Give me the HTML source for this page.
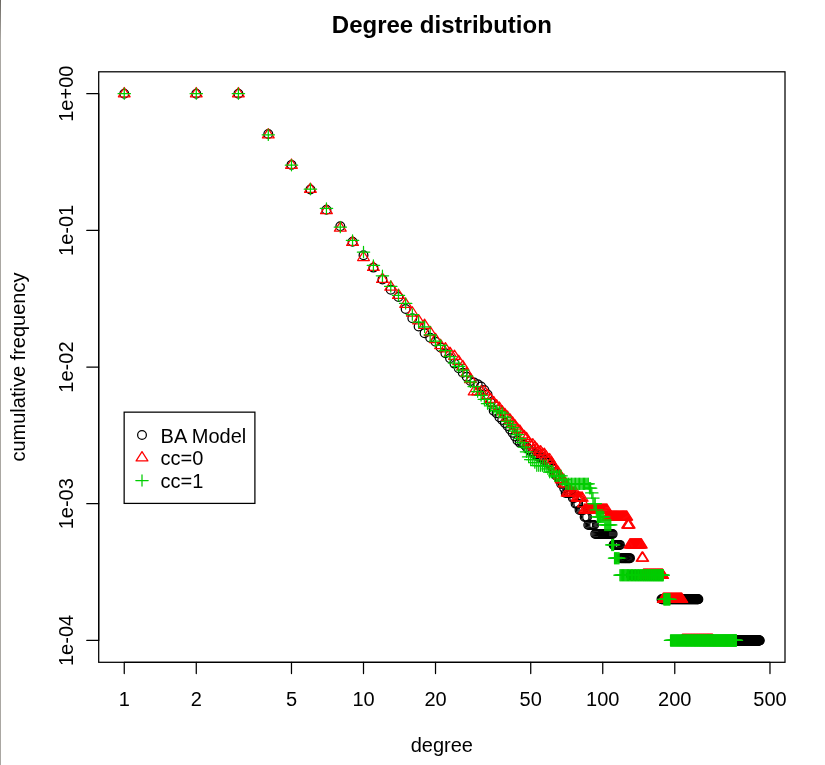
<!DOCTYPE html>
<html><head><meta charset="utf-8"><title>Degree distribution</title>
<style>
html,body{margin:0;padding:0;background:#fff;}
body{width:825px;height:765px;overflow:hidden;position:relative;}
.edge{position:absolute;left:0;top:0;width:1px;height:765px;background:linear-gradient(rgb(106,103,97) 0px,rgb(170,167,162) 40px,rgb(170,167,162) 765px);}
svg{position:absolute;left:0;top:0;}
text{font-family:"Liberation Sans",Arial,Helvetica,sans-serif;font-size:20px;fill:#000;}
</style></head><body>
<svg width="825" height="765" viewBox="0 0 825 765">
<g fill="none" stroke="#000" stroke-width="1.25"><circle cx="124.25" cy="93.70" r="4.37"/><circle cx="196.27" cy="93.70" r="4.37"/><circle cx="238.40" cy="93.70" r="4.37"/><circle cx="268.29" cy="134.08" r="4.37"/><circle cx="291.48" cy="164.87" r="4.37"/><circle cx="310.42" cy="189.41" r="4.37"/><circle cx="326.44" cy="209.82" r="4.37"/><circle cx="340.31" cy="226.31" r="4.37"/><circle cx="352.55" cy="241.66" r="4.37"/><circle cx="363.50" cy="255.32" r="4.37"/><circle cx="373.40" cy="267.62" r="4.37"/><circle cx="382.44" cy="279.52" r="4.37"/><circle cx="390.76" cy="289.72" r="4.37"/><circle cx="398.46" cy="296.91" r="4.37"/><circle cx="405.63" cy="308.99" r="4.37"/><circle cx="412.34" cy="318.14" r="4.37"/><circle cx="418.63" cy="326.51" r="4.37"/><circle cx="424.57" cy="333.17" r="4.37"/><circle cx="430.19" cy="337.70" r="4.37"/><circle cx="435.52" cy="341.82" r="4.37"/><circle cx="440.59" cy="347.51" r="4.37"/><circle cx="445.42" cy="353.34" r="4.37"/><circle cx="450.04" cy="358.25" r="4.37"/><circle cx="454.47" cy="363.60" r="4.37"/><circle cx="458.71" cy="368.26" r="4.37"/><circle cx="462.78" cy="372.66" r="4.37"/><circle cx="466.70" cy="376.71" r="4.37"/><circle cx="470.48" cy="381.05" r="4.37"/><circle cx="474.13" cy="382.57" r="4.37"/><circle cx="477.65" cy="384.14" r="4.37"/><circle cx="481.06" cy="386.56" r="4.37"/><circle cx="484.36" cy="389.95" r="4.37"/><circle cx="487.55" cy="394.49" r="4.37"/><circle cx="490.66" cy="402.55" r="4.37"/><circle cx="493.67" cy="410.63" r="4.37"/><circle cx="496.60" cy="413.15" r="4.37"/><circle cx="499.44" cy="417.16" r="4.37"/><circle cx="502.21" cy="419.98" r="4.37"/><circle cx="504.91" cy="422.95" r="4.37"/><circle cx="507.54" cy="426.08" r="4.37"/><circle cx="510.11" cy="429.38" r="4.37"/><circle cx="512.61" cy="432.87" r="4.37"/><circle cx="515.06" cy="436.58" r="4.37"/><circle cx="517.45" cy="440.54" r="4.37"/><circle cx="519.78" cy="442.62" r="4.37"/><circle cx="522.06" cy="442.62" r="4.37"/><circle cx="524.30" cy="444.78" r="4.37"/><circle cx="526.49" cy="447.02" r="4.37"/><circle cx="528.63" cy="449.35" r="4.37"/><circle cx="530.73" cy="451.77" r="4.37"/><circle cx="532.79" cy="451.77" r="4.37"/><circle cx="534.80" cy="454.30" r="4.37"/><circle cx="536.78" cy="454.30" r="4.37"/><circle cx="538.73" cy="456.94" r="4.37"/><circle cx="540.63" cy="456.94" r="4.37"/><circle cx="542.50" cy="456.94" r="4.37"/><circle cx="544.34" cy="459.70" r="4.37"/><circle cx="546.15" cy="462.60" r="4.37"/><circle cx="547.93" cy="462.60" r="4.37"/><circle cx="549.67" cy="462.60" r="4.37"/><circle cx="551.39" cy="465.64" r="4.37"/><circle cx="553.08" cy="468.85" r="4.37"/><circle cx="554.74" cy="472.24" r="4.37"/><circle cx="556.38" cy="475.84" r="4.37"/><circle cx="557.99" cy="475.84" r="4.37"/><circle cx="559.58" cy="479.67" r="4.37"/><circle cx="561.14" cy="483.77" r="4.37"/><circle cx="562.68" cy="483.77" r="4.37"/><circle cx="564.19" cy="488.17" r="4.37"/><circle cx="565.69" cy="492.92" r="4.37"/><circle cx="567.16" cy="492.92" r="4.37"/><circle cx="568.62" cy="492.92" r="4.37"/><circle cx="570.05" cy="492.92" r="4.37"/><circle cx="571.46" cy="492.92" r="4.37"/><circle cx="572.86" cy="498.08" r="4.37"/><circle cx="574.23" cy="498.08" r="4.37"/><circle cx="575.59" cy="503.74" r="4.37"/><circle cx="576.93" cy="503.74" r="4.37"/><circle cx="578.26" cy="503.74" r="4.37"/><circle cx="579.56" cy="509.99" r="4.37"/><circle cx="580.86" cy="509.99" r="4.37"/><circle cx="582.13" cy="509.99" r="4.37"/><circle cx="583.39" cy="509.99" r="4.37"/><circle cx="584.63" cy="516.99" r="4.37"/><circle cx="585.86" cy="516.99" r="4.37"/><circle cx="587.08" cy="516.99" r="4.37"/><circle cx="588.28" cy="524.91" r="4.37"/><circle cx="589.47" cy="524.91" r="4.37"/><circle cx="590.64" cy="524.91" r="4.37"/><circle cx="591.80" cy="524.91" r="4.37"/><circle cx="592.95" cy="524.91" r="4.37"/><circle cx="594.09" cy="524.91" r="4.37"/><circle cx="595.21" cy="534.06" r="4.37"/><circle cx="596.32" cy="534.06" r="4.37"/><circle cx="597.42" cy="534.06" r="4.37"/><circle cx="598.51" cy="534.06" r="4.37"/><circle cx="599.59" cy="534.06" r="4.37"/><circle cx="600.65" cy="534.06" r="4.37"/><circle cx="601.71" cy="534.06" r="4.37"/><circle cx="602.75" cy="534.06" r="4.37"/><circle cx="603.78" cy="534.06" r="4.37"/><circle cx="604.81" cy="534.06" r="4.37"/><circle cx="605.82" cy="534.06" r="4.37"/><circle cx="606.83" cy="534.06" r="4.37"/><circle cx="607.82" cy="534.06" r="4.37"/><circle cx="608.80" cy="534.06" r="4.37"/><circle cx="609.78" cy="534.06" r="4.37"/><circle cx="610.75" cy="534.06" r="4.37"/><circle cx="611.70" cy="534.06" r="4.37"/><circle cx="612.65" cy="534.06" r="4.37"/><circle cx="613.59" cy="544.88" r="4.37"/><circle cx="614.53" cy="544.88" r="4.37"/><circle cx="615.45" cy="544.88" r="4.37"/><circle cx="616.36" cy="544.88" r="4.37"/><circle cx="617.27" cy="544.88" r="4.37"/><circle cx="618.17" cy="544.88" r="4.37"/><circle cx="619.06" cy="544.88" r="4.37"/><circle cx="619.95" cy="544.88" r="4.37"/><circle cx="620.82" cy="558.13" r="4.37"/><circle cx="621.69" cy="558.13" r="4.37"/><circle cx="622.56" cy="558.13" r="4.37"/><circle cx="623.41" cy="558.13" r="4.37"/><circle cx="624.26" cy="558.13" r="4.37"/><circle cx="625.10" cy="558.13" r="4.37"/><circle cx="625.94" cy="558.13" r="4.37"/><circle cx="626.76" cy="558.13" r="4.37"/><circle cx="627.59" cy="558.13" r="4.37"/><circle cx="628.40" cy="558.13" r="4.37"/><circle cx="629.21" cy="558.13" r="4.37"/><circle cx="630.01" cy="558.13" r="4.37"/><circle cx="630.81" cy="575.21" r="4.37"/><circle cx="631.60" cy="575.21" r="4.37"/><circle cx="632.38" cy="575.21" r="4.37"/><circle cx="633.16" cy="575.21" r="4.37"/><circle cx="633.93" cy="575.21" r="4.37"/><circle cx="634.70" cy="575.21" r="4.37"/><circle cx="635.46" cy="575.21" r="4.37"/><circle cx="636.22" cy="575.21" r="4.37"/><circle cx="636.97" cy="575.21" r="4.37"/><circle cx="637.71" cy="575.21" r="4.37"/><circle cx="638.45" cy="575.21" r="4.37"/><circle cx="639.18" cy="575.21" r="4.37"/><circle cx="639.91" cy="575.21" r="4.37"/><circle cx="640.64" cy="575.21" r="4.37"/><circle cx="641.36" cy="575.21" r="4.37"/><circle cx="642.07" cy="575.21" r="4.37"/><circle cx="642.78" cy="575.21" r="4.37"/><circle cx="643.49" cy="575.21" r="4.37"/><circle cx="644.18" cy="575.21" r="4.37"/><circle cx="644.88" cy="575.21" r="4.37"/><circle cx="645.57" cy="575.21" r="4.37"/><circle cx="646.26" cy="575.21" r="4.37"/><circle cx="646.94" cy="575.21" r="4.37"/><circle cx="647.61" cy="575.21" r="4.37"/><circle cx="648.29" cy="575.21" r="4.37"/><circle cx="648.96" cy="575.21" r="4.37"/><circle cx="649.62" cy="575.21" r="4.37"/><circle cx="650.28" cy="575.21" r="4.37"/><circle cx="650.93" cy="575.21" r="4.37"/><circle cx="651.59" cy="575.21" r="4.37"/><circle cx="652.23" cy="575.21" r="4.37"/><circle cx="652.88" cy="575.21" r="4.37"/><circle cx="653.52" cy="575.21" r="4.37"/><circle cx="654.15" cy="575.21" r="4.37"/><circle cx="654.78" cy="575.21" r="4.37"/><circle cx="655.41" cy="575.21" r="4.37"/><circle cx="656.03" cy="575.21" r="4.37"/><circle cx="656.66" cy="575.21" r="4.37"/><circle cx="657.27" cy="575.21" r="4.37"/><circle cx="657.88" cy="575.21" r="4.37"/><circle cx="658.49" cy="575.21" r="4.37"/><circle cx="659.10" cy="575.21" r="4.37"/><circle cx="659.70" cy="575.21" r="4.37"/><circle cx="660.30" cy="575.21" r="4.37"/><circle cx="660.90" cy="575.21" r="4.37"/><circle cx="661.49" cy="599.28" r="4.37"/><circle cx="662.08" cy="599.28" r="4.37"/><circle cx="662.66" cy="599.28" r="4.37"/><circle cx="663.25" cy="599.28" r="4.37"/><circle cx="663.82" cy="599.28" r="4.37"/><circle cx="664.40" cy="599.28" r="4.37"/><circle cx="664.97" cy="599.28" r="4.37"/><circle cx="665.54" cy="599.28" r="4.37"/><circle cx="666.11" cy="599.28" r="4.37"/><circle cx="666.67" cy="599.28" r="4.37"/><circle cx="667.23" cy="599.28" r="4.37"/><circle cx="667.79" cy="599.28" r="4.37"/><circle cx="668.34" cy="599.28" r="4.37"/><circle cx="668.89" cy="599.28" r="4.37"/><circle cx="669.44" cy="599.28" r="4.37"/><circle cx="669.99" cy="599.28" r="4.37"/><circle cx="670.53" cy="599.28" r="4.37"/><circle cx="671.07" cy="599.28" r="4.37"/><circle cx="671.61" cy="599.28" r="4.37"/><circle cx="672.14" cy="599.28" r="4.37"/><circle cx="672.67" cy="599.28" r="4.37"/><circle cx="673.20" cy="599.28" r="4.37"/><circle cx="673.73" cy="599.28" r="4.37"/><circle cx="674.25" cy="599.28" r="4.37"/><circle cx="674.77" cy="599.28" r="4.37"/><circle cx="675.29" cy="599.28" r="4.37"/><circle cx="675.81" cy="599.28" r="4.37"/><circle cx="676.32" cy="599.28" r="4.37"/><circle cx="676.83" cy="599.28" r="4.37"/><circle cx="677.34" cy="599.28" r="4.37"/><circle cx="677.84" cy="599.28" r="4.37"/><circle cx="678.35" cy="599.28" r="4.37"/><circle cx="678.85" cy="599.28" r="4.37"/><circle cx="679.34" cy="599.28" r="4.37"/><circle cx="679.84" cy="599.28" r="4.37"/><circle cx="680.33" cy="599.28" r="4.37"/><circle cx="680.83" cy="599.28" r="4.37"/><circle cx="681.31" cy="599.28" r="4.37"/><circle cx="681.80" cy="599.28" r="4.37"/><circle cx="682.29" cy="599.28" r="4.37"/><circle cx="682.77" cy="599.28" r="4.37"/><circle cx="683.25" cy="599.28" r="4.37"/><circle cx="683.73" cy="599.28" r="4.37"/><circle cx="684.20" cy="599.28" r="4.37"/><circle cx="684.67" cy="599.28" r="4.37"/><circle cx="685.15" cy="599.28" r="4.37"/><circle cx="685.61" cy="599.28" r="4.37"/><circle cx="686.08" cy="599.28" r="4.37"/><circle cx="686.55" cy="599.28" r="4.37"/><circle cx="687.01" cy="599.28" r="4.37"/><circle cx="687.47" cy="599.28" r="4.37"/><circle cx="687.93" cy="599.28" r="4.37"/><circle cx="688.39" cy="599.28" r="4.37"/><circle cx="688.84" cy="599.28" r="4.37"/><circle cx="689.29" cy="599.28" r="4.37"/><circle cx="689.74" cy="599.28" r="4.37"/><circle cx="690.19" cy="599.28" r="4.37"/><circle cx="690.64" cy="599.28" r="4.37"/><circle cx="691.08" cy="599.28" r="4.37"/><circle cx="691.53" cy="599.28" r="4.37"/><circle cx="691.97" cy="599.28" r="4.37"/><circle cx="692.41" cy="599.28" r="4.37"/><circle cx="692.85" cy="599.28" r="4.37"/><circle cx="693.28" cy="599.28" r="4.37"/><circle cx="693.72" cy="599.28" r="4.37"/><circle cx="694.15" cy="599.28" r="4.37"/><circle cx="694.58" cy="599.28" r="4.37"/><circle cx="695.01" cy="599.28" r="4.37"/><circle cx="695.43" cy="599.28" r="4.37"/><circle cx="695.86" cy="599.28" r="4.37"/><circle cx="696.28" cy="599.28" r="4.37"/><circle cx="696.70" cy="599.28" r="4.37"/><circle cx="697.12" cy="599.28" r="4.37"/><circle cx="697.54" cy="599.28" r="4.37"/><circle cx="697.96" cy="599.28" r="4.37"/><circle cx="698.37" cy="599.28" r="4.37"/><circle cx="698.79" cy="640.42" r="4.37"/><circle cx="699.20" cy="640.42" r="4.37"/><circle cx="699.61" cy="640.42" r="4.37"/><circle cx="700.01" cy="640.42" r="4.37"/><circle cx="700.42" cy="640.42" r="4.37"/><circle cx="700.83" cy="640.42" r="4.37"/><circle cx="701.23" cy="640.42" r="4.37"/><circle cx="701.63" cy="640.42" r="4.37"/><circle cx="702.03" cy="640.42" r="4.37"/><circle cx="702.43" cy="640.42" r="4.37"/><circle cx="702.83" cy="640.42" r="4.37"/><circle cx="703.22" cy="640.42" r="4.37"/><circle cx="703.62" cy="640.42" r="4.37"/><circle cx="704.01" cy="640.42" r="4.37"/><circle cx="704.40" cy="640.42" r="4.37"/><circle cx="704.79" cy="640.42" r="4.37"/><circle cx="705.18" cy="640.42" r="4.37"/><circle cx="705.57" cy="640.42" r="4.37"/><circle cx="705.95" cy="640.42" r="4.37"/><circle cx="706.34" cy="640.42" r="4.37"/><circle cx="706.72" cy="640.42" r="4.37"/><circle cx="707.10" cy="640.42" r="4.37"/><circle cx="707.48" cy="640.42" r="4.37"/><circle cx="707.86" cy="640.42" r="4.37"/><circle cx="708.24" cy="640.42" r="4.37"/><circle cx="708.61" cy="640.42" r="4.37"/><circle cx="708.99" cy="640.42" r="4.37"/><circle cx="709.36" cy="640.42" r="4.37"/><circle cx="709.73" cy="640.42" r="4.37"/><circle cx="710.10" cy="640.42" r="4.37"/><circle cx="710.47" cy="640.42" r="4.37"/><circle cx="710.84" cy="640.42" r="4.37"/><circle cx="711.21" cy="640.42" r="4.37"/><circle cx="711.57" cy="640.42" r="4.37"/><circle cx="711.94" cy="640.42" r="4.37"/><circle cx="712.30" cy="640.42" r="4.37"/><circle cx="712.66" cy="640.42" r="4.37"/><circle cx="713.02" cy="640.42" r="4.37"/><circle cx="713.38" cy="640.42" r="4.37"/><circle cx="713.74" cy="640.42" r="4.37"/><circle cx="714.09" cy="640.42" r="4.37"/><circle cx="714.45" cy="640.42" r="4.37"/><circle cx="714.80" cy="640.42" r="4.37"/><circle cx="715.15" cy="640.42" r="4.37"/><circle cx="715.51" cy="640.42" r="4.37"/><circle cx="715.86" cy="640.42" r="4.37"/><circle cx="716.21" cy="640.42" r="4.37"/><circle cx="716.55" cy="640.42" r="4.37"/><circle cx="716.90" cy="640.42" r="4.37"/><circle cx="717.25" cy="640.42" r="4.37"/><circle cx="717.59" cy="640.42" r="4.37"/><circle cx="717.94" cy="640.42" r="4.37"/><circle cx="718.28" cy="640.42" r="4.37"/><circle cx="718.62" cy="640.42" r="4.37"/><circle cx="718.96" cy="640.42" r="4.37"/><circle cx="719.30" cy="640.42" r="4.37"/><circle cx="719.64" cy="640.42" r="4.37"/><circle cx="719.97" cy="640.42" r="4.37"/><circle cx="720.31" cy="640.42" r="4.37"/><circle cx="720.64" cy="640.42" r="4.37"/><circle cx="720.98" cy="640.42" r="4.37"/><circle cx="721.31" cy="640.42" r="4.37"/><circle cx="721.64" cy="640.42" r="4.37"/><circle cx="721.97" cy="640.42" r="4.37"/><circle cx="722.30" cy="640.42" r="4.37"/><circle cx="722.63" cy="640.42" r="4.37"/><circle cx="722.96" cy="640.42" r="4.37"/><circle cx="723.28" cy="640.42" r="4.37"/><circle cx="723.61" cy="640.42" r="4.37"/><circle cx="723.93" cy="640.42" r="4.37"/><circle cx="724.25" cy="640.42" r="4.37"/><circle cx="724.58" cy="640.42" r="4.37"/><circle cx="724.90" cy="640.42" r="4.37"/><circle cx="725.22" cy="640.42" r="4.37"/><circle cx="725.54" cy="640.42" r="4.37"/><circle cx="725.86" cy="640.42" r="4.37"/><circle cx="726.17" cy="640.42" r="4.37"/><circle cx="726.49" cy="640.42" r="4.37"/><circle cx="726.80" cy="640.42" r="4.37"/><circle cx="727.12" cy="640.42" r="4.37"/><circle cx="727.43" cy="640.42" r="4.37"/><circle cx="727.74" cy="640.42" r="4.37"/><circle cx="728.06" cy="640.42" r="4.37"/><circle cx="728.37" cy="640.42" r="4.37"/><circle cx="728.68" cy="640.42" r="4.37"/><circle cx="728.99" cy="640.42" r="4.37"/><circle cx="729.29" cy="640.42" r="4.37"/><circle cx="729.60" cy="640.42" r="4.37"/><circle cx="729.91" cy="640.42" r="4.37"/><circle cx="730.21" cy="640.42" r="4.37"/><circle cx="730.52" cy="640.42" r="4.37"/><circle cx="730.82" cy="640.42" r="4.37"/><circle cx="731.12" cy="640.42" r="4.37"/><circle cx="731.42" cy="640.42" r="4.37"/><circle cx="731.72" cy="640.42" r="4.37"/><circle cx="732.02" cy="640.42" r="4.37"/><circle cx="732.32" cy="640.42" r="4.37"/><circle cx="732.62" cy="640.42" r="4.37"/><circle cx="732.92" cy="640.42" r="4.37"/><circle cx="733.21" cy="640.42" r="4.37"/><circle cx="733.51" cy="640.42" r="4.37"/><circle cx="733.81" cy="640.42" r="4.37"/><circle cx="734.10" cy="640.42" r="4.37"/><circle cx="734.39" cy="640.42" r="4.37"/><circle cx="734.68" cy="640.42" r="4.37"/><circle cx="734.98" cy="640.42" r="4.37"/><circle cx="735.27" cy="640.42" r="4.37"/><circle cx="735.56" cy="640.42" r="4.37"/><circle cx="735.85" cy="640.42" r="4.37"/><circle cx="736.13" cy="640.42" r="4.37"/><circle cx="736.42" cy="640.42" r="4.37"/><circle cx="736.71" cy="640.42" r="4.37"/><circle cx="736.99" cy="640.42" r="4.37"/><circle cx="737.28" cy="640.42" r="4.37"/><circle cx="737.56" cy="640.42" r="4.37"/><circle cx="737.85" cy="640.42" r="4.37"/><circle cx="738.13" cy="640.42" r="4.37"/><circle cx="738.41" cy="640.42" r="4.37"/><circle cx="738.69" cy="640.42" r="4.37"/><circle cx="738.97" cy="640.42" r="4.37"/><circle cx="739.25" cy="640.42" r="4.37"/><circle cx="739.53" cy="640.42" r="4.37"/><circle cx="739.81" cy="640.42" r="4.37"/><circle cx="740.09" cy="640.42" r="4.37"/><circle cx="740.36" cy="640.42" r="4.37"/><circle cx="740.64" cy="640.42" r="4.37"/><circle cx="740.91" cy="640.42" r="4.37"/><circle cx="741.19" cy="640.42" r="4.37"/><circle cx="741.46" cy="640.42" r="4.37"/><circle cx="741.74" cy="640.42" r="4.37"/><circle cx="742.01" cy="640.42" r="4.37"/><circle cx="742.28" cy="640.42" r="4.37"/><circle cx="742.55" cy="640.42" r="4.37"/><circle cx="742.82" cy="640.42" r="4.37"/><circle cx="743.09" cy="640.42" r="4.37"/><circle cx="743.36" cy="640.42" r="4.37"/><circle cx="743.63" cy="640.42" r="4.37"/><circle cx="743.90" cy="640.42" r="4.37"/><circle cx="744.16" cy="640.42" r="4.37"/><circle cx="744.43" cy="640.42" r="4.37"/><circle cx="744.69" cy="640.42" r="4.37"/><circle cx="744.96" cy="640.42" r="4.37"/><circle cx="745.22" cy="640.42" r="4.37"/><circle cx="745.49" cy="640.42" r="4.37"/><circle cx="745.75" cy="640.42" r="4.37"/><circle cx="746.01" cy="640.42" r="4.37"/><circle cx="746.27" cy="640.42" r="4.37"/><circle cx="746.53" cy="640.42" r="4.37"/><circle cx="746.79" cy="640.42" r="4.37"/><circle cx="747.05" cy="640.42" r="4.37"/><circle cx="747.31" cy="640.42" r="4.37"/><circle cx="747.57" cy="640.42" r="4.37"/><circle cx="747.83" cy="640.42" r="4.37"/><circle cx="748.08" cy="640.42" r="4.37"/><circle cx="748.34" cy="640.42" r="4.37"/><circle cx="748.60" cy="640.42" r="4.37"/><circle cx="748.85" cy="640.42" r="4.37"/><circle cx="749.10" cy="640.42" r="4.37"/><circle cx="749.36" cy="640.42" r="4.37"/><circle cx="749.61" cy="640.42" r="4.37"/><circle cx="749.86" cy="640.42" r="4.37"/><circle cx="750.12" cy="640.42" r="4.37"/><circle cx="750.37" cy="640.42" r="4.37"/><circle cx="750.62" cy="640.42" r="4.37"/><circle cx="750.87" cy="640.42" r="4.37"/><circle cx="751.12" cy="640.42" r="4.37"/><circle cx="751.37" cy="640.42" r="4.37"/><circle cx="751.61" cy="640.42" r="4.37"/><circle cx="751.86" cy="640.42" r="4.37"/><circle cx="752.11" cy="640.42" r="4.37"/><circle cx="752.36" cy="640.42" r="4.37"/><circle cx="752.60" cy="640.42" r="4.37"/><circle cx="752.85" cy="640.42" r="4.37"/><circle cx="753.09" cy="640.42" r="4.37"/><circle cx="753.34" cy="640.42" r="4.37"/><circle cx="753.58" cy="640.42" r="4.37"/><circle cx="753.82" cy="640.42" r="4.37"/><circle cx="754.07" cy="640.42" r="4.37"/><circle cx="754.31" cy="640.42" r="4.37"/><circle cx="754.55" cy="640.42" r="4.37"/><circle cx="754.79" cy="640.42" r="4.37"/><circle cx="755.03" cy="640.42" r="4.37"/><circle cx="755.27" cy="640.42" r="4.37"/><circle cx="755.51" cy="640.42" r="4.37"/><circle cx="755.75" cy="640.42" r="4.37"/><circle cx="755.99" cy="640.42" r="4.37"/><circle cx="756.22" cy="640.42" r="4.37"/><circle cx="756.46" cy="640.42" r="4.37"/><circle cx="756.70" cy="640.42" r="4.37"/><circle cx="756.93" cy="640.42" r="4.37"/><circle cx="757.17" cy="640.42" r="4.37"/><circle cx="757.40" cy="640.42" r="4.37"/><circle cx="757.64" cy="640.42" r="4.37"/><circle cx="757.87" cy="640.42" r="4.37"/><circle cx="758.10" cy="640.42" r="4.37"/><circle cx="758.34" cy="640.42" r="4.37"/><circle cx="758.57" cy="640.42" r="4.37"/><circle cx="758.80" cy="640.42" r="4.37"/><circle cx="759.03" cy="640.42" r="4.37"/><circle cx="759.26" cy="640.42" r="4.37"/><circle cx="759.49" cy="640.42" r="4.37"/><circle cx="759.72" cy="640.42" r="4.37"/></g>
<g fill="none" stroke="#f00" stroke-width="1.25" stroke-linejoin="round"><path d="M124.25 87.52L130.14 96.79L118.36 96.79Z"/><path d="M196.27 87.52L202.16 96.79L190.39 96.79Z"/><path d="M238.40 87.52L244.29 96.79L232.52 96.79Z"/><path d="M268.29 128.66L274.18 137.94L262.41 137.94Z"/><path d="M291.48 158.98L297.36 168.26L285.59 168.26Z"/><path d="M310.42 183.05L316.31 192.33L304.54 192.33Z"/><path d="M326.44 204.44L332.33 213.71L320.55 213.71Z"/><path d="M340.31 221.87L346.20 231.14L334.43 231.14Z"/><path d="M352.55 236.12L358.44 245.40L346.67 245.40Z"/><path d="M363.50 251.25L369.39 260.52L357.61 260.52Z"/><path d="M373.40 261.21L379.29 270.49L367.52 270.49Z"/><path d="M382.44 273.20L388.33 282.48L376.56 282.48Z"/><path d="M390.76 280.86L396.65 290.13L384.88 290.13Z"/><path d="M398.46 289.11L404.35 298.39L392.58 298.39Z"/><path d="M405.63 298.09L411.52 307.36L399.74 307.36Z"/><path d="M412.34 306.72L418.22 316.00L406.45 316.00Z"/><path d="M418.63 314.62L424.52 323.89L412.75 323.89Z"/><path d="M424.57 319.14L430.46 328.42L418.69 328.42Z"/><path d="M430.19 326.32L436.08 335.59L424.31 335.59Z"/><path d="M435.52 333.35L441.41 342.63L429.64 342.63Z"/><path d="M440.59 339.23L446.48 348.51L434.71 348.51Z"/><path d="M445.42 342.62L451.31 351.90L439.54 351.90Z"/><path d="M450.04 347.16L455.93 356.43L444.16 356.43Z"/><path d="M454.47 350.05L460.35 359.33L448.58 359.33Z"/><path d="M458.71 355.22L464.59 364.49L452.82 364.49Z"/><path d="M462.78 360.29L468.67 369.56L456.90 369.56Z"/><path d="M466.70 367.13L472.59 376.41L460.82 376.41Z"/><path d="M470.48 373.38L476.37 382.66L464.60 382.66Z"/><path d="M474.13 385.54L480.01 394.82L468.24 394.82Z"/><path d="M477.65 385.54L483.54 394.82L471.77 394.82Z"/><path d="M481.06 385.54L486.94 394.82L475.17 394.82Z"/><path d="M484.36 385.54L490.24 394.82L478.47 394.82Z"/><path d="M487.55 389.25L493.44 398.53L481.67 398.53Z"/><path d="M490.66 393.21L496.54 402.49L484.77 402.49Z"/><path d="M493.67 396.36L499.55 405.64L487.78 405.64Z"/><path d="M496.60 399.69L502.48 408.97L490.71 408.97Z"/><path d="M499.44 402.02L505.33 411.30L493.56 411.30Z"/><path d="M502.21 405.69L508.10 414.97L496.33 414.97Z"/><path d="M504.91 408.27L510.80 417.55L499.03 417.55Z"/><path d="M507.54 410.97L513.43 420.25L501.66 420.25Z"/><path d="M510.11 413.80L515.99 423.08L504.22 423.08Z"/><path d="M512.61 416.77L518.50 426.05L506.73 426.05Z"/><path d="M515.06 419.89L520.94 429.17L509.17 429.17Z"/><path d="M517.45 423.19L523.33 432.47L511.56 432.47Z"/><path d="M519.78 424.91L525.67 434.19L513.90 434.19Z"/><path d="M522.06 428.51L527.95 437.79L516.18 437.79Z"/><path d="M524.30 430.40L530.18 439.67L518.41 439.67Z"/><path d="M526.49 432.34L532.37 441.62L520.60 441.62Z"/><path d="M528.63 436.44L534.51 445.71L522.74 445.71Z"/><path d="M530.73 438.60L536.61 447.87L524.84 447.87Z"/><path d="M532.79 438.60L538.67 447.87L526.90 447.87Z"/><path d="M534.80 440.84L540.69 450.11L528.92 450.11Z"/><path d="M536.78 443.17L542.67 452.44L530.90 452.44Z"/><path d="M538.73 445.59L544.61 454.87L532.84 454.87Z"/><path d="M540.63 445.59L546.52 454.87L534.75 454.87Z"/><path d="M542.50 448.11L548.39 457.39L536.62 457.39Z"/><path d="M544.34 448.11L550.23 457.39L538.46 457.39Z"/><path d="M546.15 450.75L552.04 460.03L540.26 460.03Z"/><path d="M547.93 453.51L553.81 462.79L542.04 462.79Z"/><path d="M549.67 453.51L555.56 462.79L543.79 462.79Z"/><path d="M551.39 456.41L557.28 465.69L545.50 465.69Z"/><path d="M553.08 459.46L558.97 468.73L547.19 468.73Z"/><path d="M554.74 462.67L560.63 471.94L548.86 471.94Z"/><path d="M556.38 466.06L562.26 475.33L550.49 475.33Z"/><path d="M557.99 466.06L563.88 475.33L552.10 475.33Z"/><path d="M559.58 469.66L565.46 478.93L553.69 478.93Z"/><path d="M561.14 473.49L567.02 482.76L555.25 482.76Z"/><path d="M562.68 473.49L568.56 482.76L556.79 482.76Z"/><path d="M564.19 477.58L570.08 486.86L558.31 486.86Z"/><path d="M565.69 477.58L571.58 486.86L559.80 486.86Z"/><path d="M567.16 486.73L573.05 496.01L561.28 496.01Z"/><path d="M568.62 486.73L574.50 496.01L562.73 496.01Z"/><path d="M570.05 486.73L575.94 496.01L564.16 496.01Z"/><path d="M571.46 486.73L577.35 496.01L565.58 496.01Z"/><path d="M572.86 486.73L578.74 496.01L566.97 496.01Z"/><path d="M574.23 486.73L580.12 496.01L568.35 496.01Z"/><path d="M575.59 486.73L581.48 496.01L569.71 496.01Z"/><path d="M576.93 491.90L582.82 501.17L571.05 501.17Z"/><path d="M578.26 491.90L584.14 501.17L572.37 501.17Z"/><path d="M579.56 491.90L585.45 501.17L573.68 501.17Z"/><path d="M580.86 491.90L586.74 501.17L574.97 501.17Z"/><path d="M582.13 491.90L588.02 501.17L576.24 501.17Z"/><path d="M583.39 497.56L589.27 506.83L577.50 506.83Z"/><path d="M584.63 503.81L590.52 513.09L578.75 513.09Z"/><path d="M585.86 503.81L591.75 513.09L579.98 513.09Z"/><path d="M587.08 503.81L592.96 513.09L581.19 513.09Z"/><path d="M588.28 503.81L594.17 513.09L582.39 513.09Z"/><path d="M589.47 503.81L595.35 513.09L583.58 513.09Z"/><path d="M590.64 503.81L596.53 513.09L584.76 513.09Z"/><path d="M591.80 503.81L597.69 513.09L585.92 513.09Z"/><path d="M592.95 503.81L598.84 513.09L587.07 513.09Z"/><path d="M594.09 503.81L599.97 513.09L588.20 513.09Z"/><path d="M595.21 503.81L601.10 513.09L589.32 513.09Z"/><path d="M596.32 503.81L602.21 513.09L590.44 513.09Z"/><path d="M597.42 503.81L603.31 513.09L591.53 513.09Z"/><path d="M598.51 503.81L604.39 513.09L592.62 513.09Z"/><path d="M599.59 503.81L605.47 513.09L593.70 513.09Z"/><path d="M600.65 503.81L606.54 513.09L594.77 513.09Z"/><path d="M601.71 503.81L607.59 513.09L595.82 513.09Z"/><path d="M602.75 503.81L608.64 513.09L596.86 513.09Z"/><path d="M603.78 503.81L609.67 513.09L597.90 513.09Z"/><path d="M604.81 503.81L610.69 513.09L598.92 513.09Z"/><path d="M605.82 503.81L611.71 513.09L599.94 513.09Z"/><path d="M606.83 503.81L612.71 513.09L600.94 513.09Z"/><path d="M607.82 510.80L613.71 520.08L601.93 520.08Z"/><path d="M608.80 510.80L614.69 520.08L602.92 520.08Z"/><path d="M609.78 510.80L615.67 520.08L603.89 520.08Z"/><path d="M610.75 510.80L616.63 520.08L604.86 520.08Z"/><path d="M611.70 510.80L617.59 520.08L605.82 520.08Z"/><path d="M612.65 510.80L618.54 520.08L606.77 520.08Z"/><path d="M613.59 510.80L619.48 520.08L607.71 520.08Z"/><path d="M614.53 510.80L620.41 520.08L608.64 520.08Z"/><path d="M615.45 510.80L621.33 520.08L609.56 520.08Z"/><path d="M616.36 510.80L622.25 520.08L610.48 520.08Z"/><path d="M617.27 510.80L623.16 520.08L611.39 520.08Z"/><path d="M618.17 510.80L624.06 520.08L612.29 520.08Z"/><path d="M619.06 510.80L624.95 520.08L613.18 520.08Z"/><path d="M619.95 510.80L625.83 520.08L614.06 520.08Z"/><path d="M620.82 510.80L626.71 520.08L614.94 520.08Z"/><path d="M621.69 510.80L627.58 520.08L615.81 520.08Z"/><path d="M622.56 510.80L628.44 520.08L616.67 520.08Z"/><path d="M623.41 510.80L629.30 520.08L617.53 520.08Z"/><path d="M624.26 510.80L630.15 520.08L618.37 520.08Z"/><path d="M625.10 510.80L630.99 520.08L619.22 520.08Z"/><path d="M625.94 510.80L631.82 520.08L620.05 520.08Z"/><path d="M626.76 510.80L632.65 520.08L620.88 520.08Z"/><path d="M627.59 518.73L633.47 528.00L621.70 528.00Z"/><path d="M628.40 518.73L634.29 528.00L622.51 528.00Z"/><path d="M629.21 518.73L635.09 528.00L623.32 528.00Z"/><path d="M630.01 538.70L635.90 547.98L624.13 547.98Z"/><path d="M630.81 538.70L636.69 547.98L624.92 547.98Z"/><path d="M631.60 538.70L637.48 547.98L625.71 547.98Z"/><path d="M632.38 538.70L638.27 547.98L626.50 547.98Z"/><path d="M633.16 538.70L639.05 547.98L627.27 547.98Z"/><path d="M633.93 538.70L639.82 547.98L628.05 547.98Z"/><path d="M634.70 538.70L640.58 547.98L628.81 547.98Z"/><path d="M635.46 538.70L641.35 547.98L629.57 547.98Z"/><path d="M636.22 538.70L642.10 547.98L630.33 547.98Z"/><path d="M636.97 538.70L642.85 547.98L631.08 547.98Z"/><path d="M637.71 538.70L643.60 547.98L631.83 547.98Z"/><path d="M638.45 538.70L644.34 547.98L632.57 547.98Z"/><path d="M639.18 538.70L645.07 547.98L633.30 547.98Z"/><path d="M639.91 538.70L645.80 547.98L634.03 547.98Z"/><path d="M640.64 538.70L646.52 547.98L634.75 547.98Z"/><path d="M641.36 538.70L647.24 547.98L635.47 547.98Z"/><path d="M642.07 551.95L647.96 561.22L636.19 561.22Z"/><path d="M642.78 551.95L648.67 561.22L636.90 561.22Z"/><path d="M643.49 569.02L649.37 578.30L637.60 578.30Z"/><path d="M644.18 569.02L650.07 578.30L638.30 578.30Z"/><path d="M644.88 569.02L650.77 578.30L638.99 578.30Z"/><path d="M645.57 569.02L651.46 578.30L639.68 578.30Z"/><path d="M646.26 569.02L652.14 578.30L640.37 578.30Z"/><path d="M646.94 569.02L652.82 578.30L641.05 578.30Z"/><path d="M647.61 569.02L653.50 578.30L641.73 578.30Z"/><path d="M648.29 569.02L654.17 578.30L642.40 578.30Z"/><path d="M648.96 569.02L654.84 578.30L643.07 578.30Z"/><path d="M649.62 569.02L655.50 578.30L643.73 578.30Z"/><path d="M650.28 569.02L656.16 578.30L644.39 578.30Z"/><path d="M650.93 569.02L656.82 578.30L645.05 578.30Z"/><path d="M651.59 569.02L657.47 578.30L645.70 578.30Z"/><path d="M652.23 569.02L658.12 578.30L646.35 578.30Z"/><path d="M652.88 569.02L658.76 578.30L646.99 578.30Z"/><path d="M653.52 569.02L659.40 578.30L647.63 578.30Z"/><path d="M654.15 569.02L660.04 578.30L648.27 578.30Z"/><path d="M654.78 569.02L660.67 578.30L648.90 578.30Z"/><path d="M655.41 569.02L661.30 578.30L649.53 578.30Z"/><path d="M656.03 569.02L661.92 578.30L650.15 578.30Z"/><path d="M656.66 569.02L662.54 578.30L650.77 578.30Z"/><path d="M657.27 569.02L663.16 578.30L651.39 578.30Z"/><path d="M657.88 569.02L663.77 578.30L652.00 578.30Z"/><path d="M658.49 569.02L664.38 578.30L652.61 578.30Z"/><path d="M659.10 569.02L664.99 578.30L653.21 578.30Z"/><path d="M659.70 569.02L665.59 578.30L653.82 578.30Z"/><path d="M660.30 569.02L666.19 578.30L654.42 578.30Z"/><path d="M660.90 569.02L666.78 578.30L655.01 578.30Z"/><path d="M661.49 569.02L667.37 578.30L655.60 578.30Z"/><path d="M662.08 569.02L667.96 578.30L656.19 578.30Z"/><path d="M662.66 569.02L668.55 578.30L656.78 578.30Z"/><path d="M663.25 593.09L669.13 602.37L657.36 602.37Z"/><path d="M663.82 593.09L669.71 602.37L657.94 602.37Z"/><path d="M664.40 593.09L670.29 602.37L658.51 602.37Z"/><path d="M664.97 593.09L670.86 602.37L659.09 602.37Z"/><path d="M665.54 593.09L671.43 602.37L659.66 602.37Z"/><path d="M666.11 593.09L671.99 602.37L660.22 602.37Z"/><path d="M666.67 593.09L672.56 602.37L660.79 602.37Z"/><path d="M667.23 593.09L673.12 602.37L661.35 602.37Z"/><path d="M667.79 593.09L673.67 602.37L661.90 602.37Z"/><path d="M668.34 593.09L674.23 602.37L662.46 602.37Z"/><path d="M668.89 593.09L674.78 602.37L663.01 602.37Z"/><path d="M669.44 593.09L675.33 602.37L663.56 602.37Z"/><path d="M669.99 593.09L675.87 602.37L664.10 602.37Z"/><path d="M670.53 593.09L676.42 602.37L664.64 602.37Z"/><path d="M671.07 593.09L676.96 602.37L665.18 602.37Z"/><path d="M671.61 593.09L677.49 602.37L665.72 602.37Z"/><path d="M672.14 593.09L678.03 602.37L666.26 602.37Z"/><path d="M672.67 593.09L678.56 602.37L666.79 602.37Z"/><path d="M673.20 593.09L679.09 602.37L667.32 602.37Z"/><path d="M673.73 593.09L679.61 602.37L667.84 602.37Z"/><path d="M674.25 593.09L680.14 602.37L668.37 602.37Z"/><path d="M674.77 593.09L680.66 602.37L668.89 602.37Z"/><path d="M675.29 593.09L681.18 602.37L669.40 602.37Z"/><path d="M675.81 593.09L681.69 602.37L669.92 602.37Z"/><path d="M676.32 593.09L682.20 602.37L670.43 602.37Z"/><path d="M676.83 593.09L682.71 602.37L670.94 602.37Z"/><path d="M677.34 593.09L683.22 602.37L671.45 602.37Z"/><path d="M677.84 593.09L683.73 602.37L671.96 602.37Z"/><path d="M678.35 593.09L684.23 602.37L672.46 602.37Z"/><path d="M678.85 593.09L684.73 602.37L672.96 602.37Z"/><path d="M679.34 593.09L685.23 602.37L673.46 602.37Z"/><path d="M679.84 593.09L685.73 602.37L673.96 602.37Z"/><path d="M680.33 593.09L686.22 602.37L674.45 602.37Z"/><path d="M680.83 593.09L686.71 602.37L674.94 602.37Z"/><path d="M681.31 593.09L687.20 602.37L675.43 602.37Z"/><path d="M681.80 593.09L687.69 602.37L675.92 602.37Z"/><path d="M682.29 634.24L688.17 643.51L676.40 643.51Z"/><path d="M682.77 634.24L688.65 643.51L676.88 643.51Z"/><path d="M683.25 634.24L689.13 643.51L677.36 643.51Z"/><path d="M683.73 634.24L689.61 643.51L677.84 643.51Z"/><path d="M684.20 634.24L690.09 643.51L678.32 643.51Z"/><path d="M684.67 634.24L690.56 643.51L678.79 643.51Z"/><path d="M685.15 634.24L691.03 643.51L679.26 643.51Z"/><path d="M685.61 634.24L691.50 643.51L679.73 643.51Z"/><path d="M686.08 634.24L691.97 643.51L680.20 643.51Z"/><path d="M686.55 634.24L692.43 643.51L680.66 643.51Z"/><path d="M687.01 634.24L692.90 643.51L681.12 643.51Z"/><path d="M687.47 634.24L693.36 643.51L681.58 643.51Z"/><path d="M687.93 634.24L693.81 643.51L682.04 643.51Z"/><path d="M688.39 634.24L694.27 643.51L682.50 643.51Z"/><path d="M688.84 634.24L694.73 643.51L682.96 643.51Z"/><path d="M689.29 634.24L695.18 643.51L683.41 643.51Z"/><path d="M689.74 634.24L695.63 643.51L683.86 643.51Z"/><path d="M690.19 634.24L696.08 643.51L684.31 643.51Z"/><path d="M690.64 634.24L696.53 643.51L684.75 643.51Z"/><path d="M691.08 634.24L696.97 643.51L685.20 643.51Z"/><path d="M691.53 634.24L697.41 643.51L685.64 643.51Z"/><path d="M691.97 634.24L697.85 643.51L686.08 643.51Z"/><path d="M692.41 634.24L698.29 643.51L686.52 643.51Z"/><path d="M692.85 634.24L698.73 643.51L686.96 643.51Z"/><path d="M693.28 634.24L699.17 643.51L687.40 643.51Z"/><path d="M693.72 634.24L699.60 643.51L687.83 643.51Z"/><path d="M694.15 634.24L700.03 643.51L688.26 643.51Z"/><path d="M694.58 634.24L700.46 643.51L688.69 643.51Z"/><path d="M695.01 634.24L700.89 643.51L689.12 643.51Z"/><path d="M695.43 634.24L701.32 643.51L689.55 643.51Z"/><path d="M695.86 634.24L701.74 643.51L689.97 643.51Z"/><path d="M696.28 634.24L702.17 643.51L690.40 643.51Z"/><path d="M696.70 634.24L702.59 643.51L690.82 643.51Z"/><path d="M697.12 634.24L703.01 643.51L691.24 643.51Z"/><path d="M697.54 634.24L703.43 643.51L691.66 643.51Z"/><path d="M697.96 634.24L703.84 643.51L692.07 643.51Z"/><path d="M698.37 634.24L704.26 643.51L692.49 643.51Z"/><path d="M698.79 634.24L704.67 643.51L692.90 643.51Z"/><path d="M699.20 634.24L705.08 643.51L693.31 643.51Z"/><path d="M699.61 634.24L705.49 643.51L693.72 643.51Z"/><path d="M700.01 634.24L705.90 643.51L694.13 643.51Z"/><path d="M700.42 634.24L706.31 643.51L694.54 643.51Z"/><path d="M700.83 634.24L706.71 643.51L694.94 643.51Z"/><path d="M701.23 634.24L707.12 643.51L695.34 643.51Z"/><path d="M701.63 634.24L707.52 643.51L695.75 643.51Z"/><path d="M702.03 634.24L707.92 643.51L696.15 643.51Z"/><path d="M702.43 634.24L708.32 643.51L696.55 643.51Z"/><path d="M702.83 634.24L708.71 643.51L696.94 643.51Z"/><path d="M703.22 634.24L709.11 643.51L697.34 643.51Z"/><path d="M703.62 634.24L709.50 643.51L697.73 643.51Z"/><path d="M704.01 634.24L709.90 643.51L698.13 643.51Z"/><path d="M704.40 634.24L710.29 643.51L698.52 643.51Z"/><path d="M704.79 634.24L710.68 643.51L698.91 643.51Z"/><path d="M705.18 634.24L711.07 643.51L699.30 643.51Z"/><path d="M705.57 634.24L711.45 643.51L699.68 643.51Z"/><path d="M705.95 634.24L711.84 643.51L700.07 643.51Z"/><path d="M706.34 634.24L712.22 643.51L700.45 643.51Z"/><path d="M706.72 634.24L712.61 643.51L700.84 643.51Z"/><path d="M707.10 634.24L712.99 643.51L701.22 643.51Z"/><path d="M707.48 634.24L713.37 643.51L701.60 643.51Z"/><path d="M707.86 634.24L713.75 643.51L701.97 643.51Z"/><path d="M708.24 634.24L714.12 643.51L702.35 643.51Z"/><path d="M708.61 634.24L714.50 643.51L702.73 643.51Z"/><path d="M708.99 634.24L714.87 643.51L703.10 643.51Z"/><path d="M709.36 634.24L715.25 643.51L703.48 643.51Z"/><path d="M709.73 634.24L715.62 643.51L703.85 643.51Z"/><path d="M710.10 634.24L715.99 643.51L704.22 643.51Z"/><path d="M710.47 634.24L716.36 643.51L704.59 643.51Z"/><path d="M710.84 634.24L716.73 643.51L704.95 643.51Z"/><path d="M711.21 634.24L717.09 643.51L705.32 643.51Z"/><path d="M711.57 634.24L717.46 643.51L705.69 643.51Z"/><path d="M711.94 634.24L717.82 643.51L706.05 643.51Z"/><path d="M712.30 634.24L718.18 643.51L706.41 643.51Z"/><path d="M712.66 634.24L718.55 643.51L706.77 643.51Z"/></g>
<g fill="none" stroke="#00cd00" stroke-width="1.25" stroke-linecap="round"><path d="M118.07 93.70H130.43M124.25 88.08V99.32"/><path d="M190.09 93.70H202.45M196.27 88.08V99.32"/><path d="M232.22 93.70H244.58M238.40 88.08V99.32"/><path d="M262.11 134.84H274.47M268.29 129.22V140.47"/><path d="M285.30 165.17H297.66M291.48 159.54V170.79"/><path d="M304.24 189.24H316.60M310.42 183.61V194.86"/><path d="M320.26 208.45H332.62M326.44 202.82V214.07"/><path d="M334.13 227.03H346.49M340.31 221.41V232.66"/><path d="M346.37 240.45H358.73M352.55 234.82V246.07"/><path d="M357.32 252.06H369.68M363.50 246.44V257.69"/><path d="M367.22 265.44H379.58M373.40 259.81V271.06"/><path d="M376.26 275.83H388.62M382.44 270.21V281.46"/><path d="M384.58 286.43H396.94M390.76 280.80V292.05"/><path d="M392.28 295.30H404.64M398.46 289.67V300.92"/><path d="M399.45 303.45H411.81M405.63 297.83V309.08"/><path d="M406.16 314.60H418.52M412.34 308.98V320.22"/><path d="M412.45 322.18H424.81M418.63 316.55V327.80"/><path d="M418.39 326.81H430.75M424.57 321.19V332.44"/><path d="M424.01 334.87H436.37M430.19 329.24V340.49"/><path d="M429.34 341.05H441.70M435.52 335.42V346.67"/><path d="M434.41 345.42H446.77M440.59 339.79V351.04"/><path d="M439.24 350.58H451.60M445.42 344.96V356.20"/><path d="M443.86 356.73H456.22M450.04 351.11V362.36"/><path d="M448.29 363.04H460.65M454.47 357.42V368.67"/><path d="M452.53 366.47H464.89M458.71 360.85V372.09"/><path d="M456.60 370.10H468.96M462.78 364.48V375.73"/><path d="M460.52 376.01H472.88M466.70 370.39V381.64"/><path d="M464.30 381.81H476.66M470.48 376.18V387.43"/><path d="M467.95 386.56H480.31M474.13 380.94V392.18"/><path d="M471.47 391.72H483.83M477.65 386.10V397.35"/><path d="M474.88 395.44H487.24M481.06 389.81V401.06"/><path d="M478.18 399.39H490.54M484.36 393.77V405.02"/><path d="M481.37 403.64H493.73M487.55 398.01V409.26"/><path d="M484.48 405.88H496.84M490.66 400.25V411.50"/><path d="M487.49 408.20H499.85M493.67 402.58V413.83"/><path d="M490.42 410.63H502.78M496.60 405.00V416.25"/><path d="M493.26 411.88H505.62M499.44 406.25V417.50"/><path d="M496.03 413.15H508.39M502.21 407.53V418.78"/><path d="M498.73 417.16H511.09M504.91 411.53V422.78"/><path d="M501.36 421.45H513.72M507.54 415.83V427.07"/><path d="M503.93 424.50H516.29M510.11 418.87V430.12"/><path d="M506.43 427.70H518.79M512.61 422.08V433.33"/><path d="M508.88 431.10H521.24M515.06 425.47V436.72"/><path d="M511.27 434.70H523.63M517.45 429.07V440.32"/><path d="M513.60 438.53H525.96M519.78 432.90V444.15"/><path d="M515.88 442.62H528.24M522.06 437.00V448.25"/><path d="M518.12 447.02H530.48M524.30 441.40V452.65"/><path d="M520.31 451.77H532.67M526.49 446.15V457.40"/><path d="M522.45 456.94H534.81M528.63 451.31V462.56"/><path d="M524.55 459.70H536.91M530.73 454.08V465.32"/><path d="M526.61 459.70H538.97M532.79 454.08V465.32"/><path d="M528.62 462.60H540.98M534.80 456.97V468.22"/><path d="M530.60 465.64H542.96M536.78 460.02V471.26"/><path d="M532.55 465.64H544.91M538.73 460.02V471.26"/><path d="M534.45 465.64H546.81M540.63 460.02V471.26"/><path d="M536.32 465.64H548.68M542.50 460.02V471.26"/><path d="M538.16 465.64H550.52M544.34 460.02V471.26"/><path d="M539.97 465.64H552.33M546.15 460.02V471.26"/><path d="M541.75 468.85H554.11M547.93 463.23V474.47"/><path d="M543.49 472.24H555.85M549.67 466.62V477.87"/><path d="M545.21 472.24H557.57M551.39 466.62V477.87"/><path d="M546.90 472.24H559.26M553.08 466.62V477.87"/><path d="M548.56 475.84H560.92M554.74 470.22V481.46"/><path d="M550.20 475.84H562.56M556.38 470.22V481.46"/><path d="M551.81 475.84H564.17M557.99 470.22V481.46"/><path d="M553.40 475.84H565.76M559.58 470.22V481.46"/><path d="M554.96 475.84H567.32M561.14 470.22V481.46"/><path d="M556.50 479.67H568.86M562.68 474.05V485.30"/><path d="M558.01 479.67H570.37M564.19 474.05V485.30"/><path d="M559.51 483.77H571.87M565.69 478.14V489.39"/><path d="M560.98 483.77H573.34M567.16 478.14V489.39"/><path d="M562.44 483.77H574.80M568.62 478.14V489.39"/><path d="M563.87 483.77H576.23M570.05 478.14V489.39"/><path d="M565.28 483.77H577.64M571.46 478.14V489.39"/><path d="M566.68 483.77H579.04M572.86 478.14V489.39"/><path d="M568.05 483.77H580.41M574.23 478.14V489.39"/><path d="M569.41 483.77H581.77M575.59 478.14V489.39"/><path d="M570.75 483.77H583.11M576.93 478.14V489.39"/><path d="M572.08 483.77H584.44M578.26 478.14V489.39"/><path d="M573.38 483.77H585.74M579.56 478.14V489.39"/><path d="M574.67 483.77H587.04M580.86 478.14V489.39"/><path d="M575.95 483.77H588.31M582.13 478.14V489.39"/><path d="M577.21 483.77H589.57M583.39 478.14V489.39"/><path d="M578.45 483.77H590.81M584.63 478.14V489.39"/><path d="M579.68 483.77H592.04M585.86 478.14V489.39"/><path d="M580.90 483.77H593.26M587.08 478.14V489.39"/><path d="M582.10 483.77H594.46M588.28 478.14V489.39"/><path d="M583.29 488.17H595.65M589.47 482.54V493.79"/><path d="M584.46 488.17H596.82M590.64 482.54V493.79"/><path d="M585.62 492.92H597.98M591.80 487.29V498.54"/><path d="M586.77 498.08H599.13M592.95 492.46V503.71"/><path d="M587.91 503.74H600.27M594.09 498.12V509.36"/><path d="M589.03 503.74H601.39M595.21 498.12V509.36"/><path d="M590.14 509.99H602.50M596.32 504.37V515.62"/><path d="M591.24 516.99H603.60M597.42 511.36V522.61"/><path d="M592.33 516.99H604.69M598.51 511.36V522.61"/><path d="M593.41 516.99H605.77M599.59 511.36V522.61"/><path d="M594.47 516.99H606.83M600.65 511.36V522.61"/><path d="M595.53 516.99H607.89M601.71 511.36V522.61"/><path d="M596.57 516.99H608.93M602.75 511.36V522.61"/><path d="M597.60 516.99H609.96M603.78 511.36V522.61"/><path d="M598.63 524.91H610.99M604.81 519.29V530.54"/><path d="M599.64 524.91H612.00M605.82 519.29V530.54"/><path d="M600.65 524.91H613.01M606.83 519.29V530.54"/><path d="M601.64 524.91H614.00M607.82 519.29V530.54"/><path d="M602.62 524.91H614.98M608.80 519.29V530.54"/><path d="M603.60 524.91H615.96M609.78 519.29V530.54"/><path d="M604.57 524.91H616.93M610.75 519.29V530.54"/><path d="M605.52 544.88H617.88M611.70 539.26V550.51"/><path d="M606.47 544.88H618.83M612.65 539.26V550.51"/><path d="M607.41 544.88H619.77M613.59 539.26V550.51"/><path d="M608.35 558.13H620.71M614.53 552.51V563.75"/><path d="M609.27 558.13H621.63M615.45 552.51V563.75"/><path d="M610.18 558.13H622.54M616.36 552.51V563.75"/><path d="M611.09 558.13H623.45M617.27 552.51V563.75"/><path d="M611.99 558.13H624.35M618.17 552.51V563.75"/><path d="M612.88 558.13H625.24M619.06 552.51V563.75"/><path d="M613.77 575.21H626.13M619.95 569.58V580.83"/><path d="M614.64 575.21H627.00M620.82 569.58V580.83"/><path d="M615.51 575.21H627.87M621.69 569.58V580.83"/><path d="M616.38 575.21H628.74M622.56 569.58V580.83"/><path d="M617.23 575.21H629.59M623.41 569.58V580.83"/><path d="M618.08 575.21H630.44M624.26 569.58V580.83"/><path d="M618.92 575.21H631.28M625.10 569.58V580.83"/><path d="M619.76 575.21H632.12M625.94 569.58V580.83"/><path d="M620.58 575.21H632.94M626.76 569.58V580.83"/><path d="M621.40 575.21H633.77M627.59 569.58V580.83"/><path d="M622.22 575.21H634.58M628.40 569.58V580.83"/><path d="M623.03 575.21H635.39M629.21 569.58V580.83"/><path d="M623.83 575.21H636.19M630.01 569.58V580.83"/><path d="M624.63 575.21H636.99M630.81 569.58V580.83"/><path d="M625.42 575.21H637.78M631.60 569.58V580.83"/><path d="M626.20 575.21H638.56M632.38 569.58V580.83"/><path d="M626.98 575.21H639.34M633.16 569.58V580.83"/><path d="M627.75 575.21H640.11M633.93 569.58V580.83"/><path d="M628.52 575.21H640.88M634.70 569.58V580.83"/><path d="M629.28 575.21H641.64M635.46 569.58V580.83"/><path d="M630.04 575.21H642.40M636.22 569.58V580.83"/><path d="M630.79 575.21H643.15M636.97 569.58V580.83"/><path d="M631.53 575.21H643.89M637.71 569.58V580.83"/><path d="M632.27 575.21H644.63M638.45 569.58V580.83"/><path d="M633.00 575.21H645.37M639.18 569.58V580.83"/><path d="M633.73 575.21H646.09M639.91 569.58V580.83"/><path d="M634.46 575.21H646.82M640.64 569.58V580.83"/><path d="M635.18 575.21H647.54M641.36 569.58V580.83"/><path d="M635.89 575.21H648.25M642.07 569.58V580.83"/><path d="M636.60 575.21H648.96M642.78 569.58V580.83"/><path d="M637.31 575.21H649.67M643.49 569.58V580.83"/><path d="M638.00 575.21H650.36M644.18 569.58V580.83"/><path d="M638.70 575.21H651.06M644.88 569.58V580.83"/><path d="M639.39 575.21H651.75M645.57 569.58V580.83"/><path d="M640.08 575.21H652.44M646.26 569.58V580.83"/><path d="M640.76 575.21H653.12M646.94 569.58V580.83"/><path d="M641.43 575.21H653.79M647.61 569.58V580.83"/><path d="M642.11 575.21H654.47M648.29 569.58V580.83"/><path d="M642.78 575.21H655.14M648.96 569.58V580.83"/><path d="M643.44 575.21H655.80M649.62 569.58V580.83"/><path d="M644.10 575.21H656.46M650.28 569.58V580.83"/><path d="M644.75 575.21H657.11M650.93 569.58V580.83"/><path d="M645.41 575.21H657.77M651.59 569.58V580.83"/><path d="M646.05 575.21H658.41M652.23 569.58V580.83"/><path d="M646.70 575.21H659.06M652.88 569.58V580.83"/><path d="M647.34 575.21H659.70M653.52 569.58V580.83"/><path d="M647.97 575.21H660.33M654.15 569.58V580.83"/><path d="M648.60 575.21H660.96M654.78 569.58V580.83"/><path d="M649.23 575.21H661.59M655.41 569.58V580.83"/><path d="M649.85 575.21H662.21M656.03 569.58V580.83"/><path d="M650.48 575.21H662.84M656.66 569.58V580.83"/><path d="M651.09 575.21H663.45M657.27 569.58V580.83"/><path d="M651.70 575.21H664.06M657.88 569.58V580.83"/><path d="M652.31 575.21H664.67M658.49 569.58V580.83"/><path d="M652.92 575.21H665.28M659.10 569.58V580.83"/><path d="M653.52 575.21H665.88M659.70 569.58V580.83"/><path d="M654.12 575.21H666.48M660.30 569.58V580.83"/><path d="M654.72 575.21H667.08M660.90 569.58V580.83"/><path d="M655.31 575.21H667.67M661.49 569.58V580.83"/><path d="M655.90 575.21H668.26M662.08 569.58V580.83"/><path d="M656.48 575.21H668.84M662.66 569.58V580.83"/><path d="M657.07 575.21H669.43M663.25 569.58V580.83"/><path d="M657.64 599.28H670.00M663.82 593.65V604.90"/><path d="M658.22 599.28H670.58M664.40 593.65V604.90"/><path d="M658.79 599.28H671.15M664.97 593.65V604.90"/><path d="M659.36 599.28H671.72M665.54 593.65V604.90"/><path d="M659.93 599.28H672.29M666.11 593.65V604.90"/><path d="M660.49 599.28H672.85M666.67 593.65V604.90"/><path d="M661.05 599.28H673.41M667.23 593.65V604.90"/><path d="M661.61 599.28H673.97M667.79 593.65V604.90"/><path d="M662.16 599.28H674.52M668.34 593.65V604.90"/><path d="M662.71 599.28H675.07M668.89 593.65V604.90"/><path d="M663.26 599.28H675.62M669.44 593.65V604.90"/><path d="M663.81 599.28H676.17M669.99 593.65V604.90"/><path d="M664.35 640.42H676.71M670.53 634.80V646.04"/><path d="M664.89 640.42H677.25M671.07 634.80V646.04"/><path d="M665.43 640.42H677.79M671.61 634.80V646.04"/><path d="M665.96 640.42H678.32M672.14 634.80V646.04"/><path d="M666.49 640.42H678.85M672.67 634.80V646.04"/><path d="M667.02 640.42H679.38M673.20 634.80V646.04"/><path d="M667.55 640.42H679.91M673.73 634.80V646.04"/><path d="M668.07 640.42H680.43M674.25 634.80V646.04"/><path d="M668.59 640.42H680.95M674.77 634.80V646.04"/><path d="M669.11 640.42H681.47M675.29 634.80V646.04"/><path d="M669.63 640.42H681.99M675.81 634.80V646.04"/><path d="M670.14 640.42H682.50M676.32 634.80V646.04"/><path d="M670.65 640.42H683.01M676.83 634.80V646.04"/><path d="M671.16 640.42H683.52M677.34 634.80V646.04"/><path d="M671.66 640.42H684.02M677.84 634.80V646.04"/><path d="M672.17 640.42H684.53M678.35 634.80V646.04"/><path d="M672.67 640.42H685.03M678.85 634.80V646.04"/><path d="M673.16 640.42H685.53M679.34 634.80V646.04"/><path d="M673.66 640.42H686.02M679.84 634.80V646.04"/><path d="M674.15 640.42H686.51M680.33 634.80V646.04"/><path d="M674.65 640.42H687.01M680.83 634.80V646.04"/><path d="M675.13 640.42H687.49M681.31 634.80V646.04"/><path d="M675.62 640.42H687.98M681.80 634.80V646.04"/><path d="M676.11 640.42H688.47M682.29 634.80V646.04"/><path d="M676.59 640.42H688.95M682.77 634.80V646.04"/><path d="M677.07 640.42H689.43M683.25 634.80V646.04"/><path d="M677.55 640.42H689.91M683.73 634.80V646.04"/><path d="M678.02 640.42H690.38M684.20 634.80V646.04"/><path d="M678.49 640.42H690.85M684.67 634.80V646.04"/><path d="M678.97 640.42H691.33M685.15 634.80V646.04"/><path d="M679.43 640.42H691.80M685.61 634.80V646.04"/><path d="M679.90 640.42H692.26M686.08 634.80V646.04"/><path d="M680.37 640.42H692.73M686.55 634.80V646.04"/><path d="M680.83 640.42H693.19M687.01 634.80V646.04"/><path d="M681.29 640.42H693.65M687.47 634.80V646.04"/><path d="M681.75 640.42H694.11M687.93 634.80V646.04"/><path d="M682.21 640.42H694.57M688.39 634.80V646.04"/><path d="M682.66 640.42H695.02M688.84 634.80V646.04"/><path d="M683.11 640.42H695.47M689.29 634.80V646.04"/><path d="M683.56 640.42H695.92M689.74 634.80V646.04"/><path d="M684.01 640.42H696.37M690.19 634.80V646.04"/><path d="M684.46 640.42H696.82M690.64 634.80V646.04"/><path d="M684.90 640.42H697.26M691.08 634.80V646.04"/><path d="M685.35 640.42H697.71M691.53 634.80V646.04"/><path d="M685.79 640.42H698.15M691.97 634.80V646.04"/><path d="M686.23 640.42H698.59M692.41 634.80V646.04"/><path d="M686.67 640.42H699.03M692.85 634.80V646.04"/><path d="M687.10 640.42H699.46M693.28 634.80V646.04"/><path d="M687.54 640.42H699.90M693.72 634.80V646.04"/><path d="M687.97 640.42H700.33M694.15 634.80V646.04"/><path d="M688.40 640.42H700.76M694.58 634.80V646.04"/><path d="M688.83 640.42H701.19M695.01 634.80V646.04"/><path d="M689.25 640.42H701.61M695.43 634.80V646.04"/><path d="M689.68 640.42H702.04M695.86 634.80V646.04"/><path d="M690.10 640.42H702.46M696.28 634.80V646.04"/><path d="M690.52 640.42H702.88M696.70 634.80V646.04"/><path d="M690.94 640.42H703.30M697.12 634.80V646.04"/><path d="M691.36 640.42H703.72M697.54 634.80V646.04"/><path d="M691.78 640.42H704.14M697.96 634.80V646.04"/><path d="M692.19 640.42H704.55M698.37 634.80V646.04"/><path d="M692.61 640.42H704.97M698.79 634.80V646.04"/><path d="M693.02 640.42H705.38M699.20 634.80V646.04"/><path d="M693.43 640.42H705.79M699.61 634.80V646.04"/><path d="M693.83 640.42H706.19M700.01 634.80V646.04"/><path d="M694.24 640.42H706.60M700.42 634.80V646.04"/><path d="M694.65 640.42H707.01M700.83 634.80V646.04"/><path d="M695.05 640.42H707.41M701.23 634.80V646.04"/><path d="M695.45 640.42H707.81M701.63 634.80V646.04"/><path d="M695.85 640.42H708.21M702.03 634.80V646.04"/><path d="M696.25 640.42H708.61M702.43 634.80V646.04"/><path d="M696.65 640.42H709.01M702.83 634.80V646.04"/><path d="M697.04 640.42H709.40M703.22 634.80V646.04"/><path d="M697.44 640.42H709.80M703.62 634.80V646.04"/><path d="M697.83 640.42H710.19M704.01 634.80V646.04"/><path d="M698.22 640.42H710.58M704.40 634.80V646.04"/><path d="M698.61 640.42H710.97M704.79 634.80V646.04"/><path d="M699.00 640.42H711.36M705.18 634.80V646.04"/><path d="M699.39 640.42H711.75M705.57 634.80V646.04"/><path d="M699.77 640.42H712.13M705.95 634.80V646.04"/><path d="M700.16 640.42H712.52M706.34 634.80V646.04"/><path d="M700.54 640.42H712.90M706.72 634.80V646.04"/><path d="M700.92 640.42H713.28M707.10 634.80V646.04"/><path d="M701.30 640.42H713.66M707.48 634.80V646.04"/><path d="M701.68 640.42H714.04M707.86 634.80V646.04"/><path d="M702.06 640.42H714.42M708.24 634.80V646.04"/><path d="M702.43 640.42H714.79M708.61 634.80V646.04"/><path d="M702.81 640.42H715.17M708.99 634.80V646.04"/><path d="M703.18 640.42H715.54M709.36 634.80V646.04"/><path d="M703.55 640.42H715.91M709.73 634.80V646.04"/><path d="M703.92 640.42H716.28M710.10 634.80V646.04"/><path d="M704.29 640.42H716.65M710.47 634.80V646.04"/><path d="M704.66 640.42H717.02M710.84 634.80V646.04"/><path d="M705.03 640.42H717.39M711.21 634.80V646.04"/><path d="M705.39 640.42H717.75M711.57 634.80V646.04"/><path d="M705.76 640.42H718.12M711.94 634.80V646.04"/><path d="M706.12 640.42H718.48M712.30 634.80V646.04"/><path d="M706.48 640.42H718.84M712.66 634.80V646.04"/><path d="M706.84 640.42H719.20M713.02 634.80V646.04"/><path d="M707.20 640.42H719.56M713.38 634.80V646.04"/><path d="M707.56 640.42H719.92M713.74 634.80V646.04"/><path d="M707.91 640.42H720.27M714.09 634.80V646.04"/><path d="M708.27 640.42H720.63M714.45 634.80V646.04"/><path d="M708.62 640.42H720.98M714.80 634.80V646.04"/><path d="M708.97 640.42H721.33M715.15 634.80V646.04"/><path d="M709.33 640.42H721.69M715.51 634.80V646.04"/><path d="M709.68 640.42H722.04M715.86 634.80V646.04"/><path d="M710.03 640.42H722.39M716.21 634.80V646.04"/><path d="M710.37 640.42H722.73M716.55 634.80V646.04"/><path d="M710.72 640.42H723.08M716.90 634.80V646.04"/><path d="M711.07 640.42H723.43M717.25 634.80V646.04"/><path d="M711.41 640.42H723.77M717.59 634.80V646.04"/><path d="M711.76 640.42H724.12M717.94 634.80V646.04"/><path d="M712.10 640.42H724.46M718.28 634.80V646.04"/><path d="M712.44 640.42H724.80M718.62 634.80V646.04"/><path d="M712.78 640.42H725.14M718.96 634.80V646.04"/><path d="M713.12 640.42H725.48M719.30 634.80V646.04"/><path d="M713.46 640.42H725.82M719.64 634.80V646.04"/><path d="M713.79 640.42H726.15M719.97 634.80V646.04"/><path d="M714.13 640.42H726.49M720.31 634.80V646.04"/><path d="M714.46 640.42H726.82M720.64 634.80V646.04"/><path d="M714.80 640.42H727.16M720.98 634.80V646.04"/><path d="M715.13 640.42H727.49M721.31 634.80V646.04"/><path d="M715.46 640.42H727.82M721.64 634.80V646.04"/><path d="M715.79 640.42H728.15M721.97 634.80V646.04"/><path d="M716.12 640.42H728.48M722.30 634.80V646.04"/><path d="M716.45 640.42H728.81M722.63 634.80V646.04"/><path d="M716.78 640.42H729.14M722.96 634.80V646.04"/><path d="M717.10 640.42H729.46M723.28 634.80V646.04"/><path d="M717.43 640.42H729.79M723.61 634.80V646.04"/><path d="M717.75 640.42H730.11M723.93 634.80V646.04"/><path d="M718.07 640.42H730.43M724.25 634.80V646.04"/><path d="M718.40 640.42H730.76M724.58 634.80V646.04"/><path d="M718.72 640.42H731.08M724.90 634.80V646.04"/><path d="M719.04 640.42H731.40M725.22 634.80V646.04"/><path d="M719.36 640.42H731.72M725.54 634.80V646.04"/><path d="M719.68 640.42H732.04M725.86 634.80V646.04"/><path d="M719.99 640.42H732.35M726.17 634.80V646.04"/><path d="M720.31 640.42H732.67M726.49 634.80V646.04"/><path d="M720.62 640.42H732.98M726.80 634.80V646.04"/><path d="M720.94 640.42H733.30M727.12 634.80V646.04"/><path d="M721.25 640.42H733.61M727.43 634.80V646.04"/><path d="M721.56 640.42H733.92M727.74 634.80V646.04"/><path d="M721.88 640.42H734.24M728.06 634.80V646.04"/><path d="M722.19 640.42H734.55M728.37 634.80V646.04"/><path d="M722.50 640.42H734.86M728.68 634.80V646.04"/><path d="M722.81 640.42H735.17M728.99 634.80V646.04"/><path d="M723.11 640.42H735.47M729.29 634.80V646.04"/><path d="M723.42 640.42H735.78M729.60 634.80V646.04"/><path d="M723.73 640.42H736.09M729.91 634.80V646.04"/><path d="M724.03 640.42H736.39M730.21 634.80V646.04"/><path d="M724.34 640.42H736.70M730.52 634.80V646.04"/><path d="M724.64 640.42H737.00M730.82 634.80V646.04"/><path d="M724.94 640.42H737.30M731.12 634.80V646.04"/><path d="M725.24 640.42H737.60M731.42 634.80V646.04"/><path d="M725.54 640.42H737.90M731.72 634.80V646.04"/><path d="M725.84 640.42H738.20M732.02 634.80V646.04"/><path d="M726.14 640.42H738.50M732.32 634.80V646.04"/><path d="M726.44 640.42H738.80M732.62 634.80V646.04"/><path d="M726.74 640.42H739.10M732.92 634.80V646.04"/><path d="M727.03 640.42H739.39M733.21 634.80V646.04"/><path d="M727.33 640.42H739.69M733.51 634.80V646.04"/><path d="M727.63 640.42H739.99M733.81 634.80V646.04"/><path d="M727.92 640.42H740.28M734.10 634.80V646.04"/><path d="M728.21 640.42H740.57M734.39 634.80V646.04"/><path d="M728.50 640.42H740.86M734.68 634.80V646.04"/><path d="M728.80 640.42H741.16M734.98 634.80V646.04"/><path d="M729.09 640.42H741.45M735.27 634.80V646.04"/><path d="M729.38 640.42H741.74M735.56 634.80V646.04"/><path d="M729.67 640.42H742.03M735.85 634.80V646.04"/><path d="M729.95 640.42H742.31M736.13 634.80V646.04"/><path d="M730.24 640.42H742.60M736.42 634.80V646.04"/></g>
<rect x="98.7" y="71.8" width="686.30" height="590.50" fill="none" stroke="#000" stroke-width="1.25"/><path d="M124.25 662.3V673.5M196.27 662.3V673.5M291.48 662.3V673.5M363.50 662.3V673.5M435.52 662.3V673.5M530.73 662.3V673.5M602.75 662.3V673.5M674.77 662.3V673.5M769.98 662.3V673.5M98.7 93.70H86.8M98.7 230.38H86.8M98.7 367.06H86.8M98.7 503.74H86.8M98.7 640.42H86.8" fill="none" stroke="#000" stroke-width="1.25" stroke-linecap="round"/><path d="M124.25 662.3H769.98M98.7 93.70V640.42" fill="none" stroke="#000" stroke-width="1.25"/>
<text x="124.25" y="706" text-anchor="middle">1</text><text x="196.27" y="706" text-anchor="middle">2</text><text x="291.48" y="706" text-anchor="middle">5</text><text x="363.50" y="706" text-anchor="middle">10</text><text x="435.52" y="706" text-anchor="middle">20</text><text x="530.73" y="706" text-anchor="middle">50</text><text x="602.75" y="706" text-anchor="middle">100</text><text x="674.77" y="706" text-anchor="middle">200</text><text x="769.98" y="706" text-anchor="middle">500</text><text transform="translate(73 93.70) rotate(-90)" text-anchor="middle">1e+00</text><text transform="translate(73 230.38) rotate(-90)" text-anchor="middle">1e-01</text><text transform="translate(73 367.06) rotate(-90)" text-anchor="middle">1e-02</text><text transform="translate(73 503.74) rotate(-90)" text-anchor="middle">1e-03</text><text transform="translate(73 640.42) rotate(-90)" text-anchor="middle">1e-04</text><text x="441.85" y="751.7" text-anchor="middle">degree</text><text transform="translate(24.6 367.05) rotate(-90)" text-anchor="middle">cumulative frequency</text><text x="441.85" y="32.9" text-anchor="middle" style="font-weight:bold;font-size:24px">Degree distribution</text>
<rect x="124.15" y="412.15" width="130.75" height="91.25" fill="#fff" stroke="#000" stroke-width="1.25"/><g fill="none" stroke="#000" stroke-width="1.25"><circle cx="142.00" cy="435.05" r="4.37"/></g><g fill="none" stroke="#f00" stroke-width="1.25" stroke-linejoin="round"><path d="M142.00 451.62L147.89 460.89L136.11 460.89Z"/></g><g fill="none" stroke="#00cd00" stroke-width="1.25" stroke-linecap="round"><path d="M135.82 480.50H148.18M142.00 474.88V486.12"/></g><text x="160.6" y="442.8">BA Model</text><text x="160.6" y="465.2">cc=0</text><text x="160.6" y="487.6">cc=1</text>
</svg>
<div class="edge"></div>
</body></html>
